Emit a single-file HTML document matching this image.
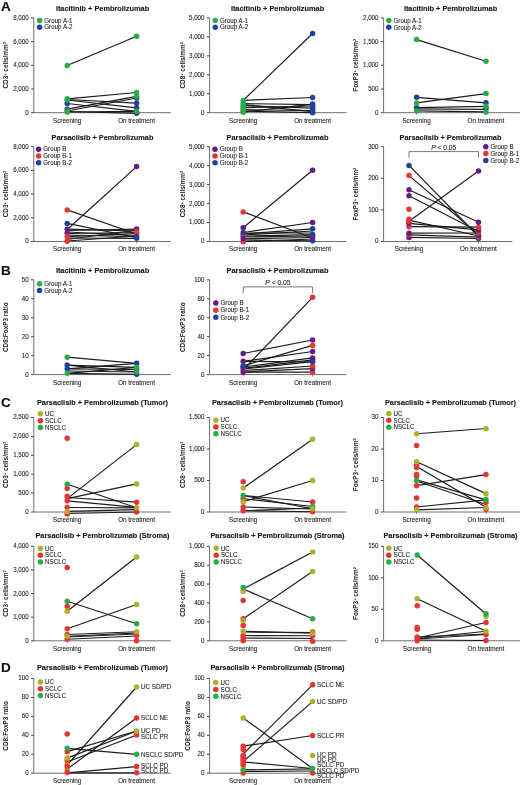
<!DOCTYPE html>
<html><head><meta charset="utf-8"><title>Figure</title>
<style>
html,body{margin:0;padding:0;background:#fff;}
body{width:520px;height:785px;overflow:hidden;}
svg{display:block;font-family:"Liberation Sans",Arial,sans-serif;}
svg line{stroke:#1c1c1c;stroke-width:1.2;}
text{stroke:#262626;stroke-width:0.1;}
text[font-weight=bold]{stroke:#1a1a1a;stroke-width:0.14;}
</style></head><body>
<svg width="520" height="785" viewBox="0 0 520 785">
<rect width="520" height="785" fill="#fff"/>
<text x="102.50" y="10.90" font-size="7.35" text-anchor="middle" font-weight="bold" fill="#1a1a1a">Itacitinib + Pembrolizumab</text>
<text transform="translate(8.30,65.30) rotate(-90)" font-size="6.4" text-anchor="middle" font-weight="bold" fill="#222" style="stroke-width:0">CD3<tspan dy="-2" font-size="4">+</tspan><tspan dy="2"> cells/mm</tspan><tspan dy="-2" font-size="4">2</tspan></text>
<path d="M33.80 17.90V112.70H170.80" fill="none" stroke="#6e6e6e" stroke-width="1"/>
<path d="M31.10 112.70H33.80" stroke="#4a4a4a" stroke-width="1.05"/>
<text x="28.70" y="114.65" font-size="6.75" text-anchor="end" fill="#262626" textLength="3.45" lengthAdjust="spacingAndGlyphs">0</text>
<path d="M31.10 89.00H33.80" stroke="#4a4a4a" stroke-width="1.05"/>
<text x="28.70" y="90.95" font-size="6.75" text-anchor="end" fill="#262626" textLength="15.52" lengthAdjust="spacingAndGlyphs">2,000</text>
<path d="M31.10 65.30H33.80" stroke="#4a4a4a" stroke-width="1.05"/>
<text x="28.70" y="67.25" font-size="6.75" text-anchor="end" fill="#262626" textLength="15.52" lengthAdjust="spacingAndGlyphs">4,000</text>
<path d="M31.10 41.60H33.80" stroke="#4a4a4a" stroke-width="1.05"/>
<text x="28.70" y="43.55" font-size="6.75" text-anchor="end" fill="#262626" textLength="15.52" lengthAdjust="spacingAndGlyphs">6,000</text>
<path d="M31.10 17.90H33.80" stroke="#4a4a4a" stroke-width="1.05"/>
<text x="28.70" y="19.85" font-size="6.75" text-anchor="end" fill="#262626" textLength="15.52" lengthAdjust="spacingAndGlyphs">8,000</text>
<path d="M67.20 112.70V114.70" stroke="#6e6e6e" stroke-width="0.8"/>
<path d="M136.60 112.70V114.70" stroke="#6e6e6e" stroke-width="0.8"/>
<text x="67.20" y="122.60" font-size="6.75" text-anchor="middle" fill="#262626" textLength="28.37" lengthAdjust="spacingAndGlyphs">Screening</text>
<text x="136.60" y="122.60" font-size="6.75" text-anchor="middle" fill="#262626" textLength="36.77" lengthAdjust="spacingAndGlyphs">On treatment</text>
<circle cx="39.60" cy="20.50" r="2.75" fill="#28ac45"/>
<text x="44.30" y="22.70" font-size="6.75" text-anchor="start" fill="#262626" textLength="28.26" lengthAdjust="spacingAndGlyphs">Group A-1</text>
<circle cx="39.60" cy="27.20" r="2.75" fill="#23409d"/>
<text x="44.30" y="29.40" font-size="6.75" text-anchor="start" fill="#262626" textLength="28.26" lengthAdjust="spacingAndGlyphs">Group A-2</text>
<line x1="67.20" y1="65.50" x2="136.60" y2="36.30"/>
<line x1="67.20" y1="98.80" x2="136.60" y2="92.50"/>
<line x1="67.20" y1="99.50" x2="136.60" y2="103.20"/>
<line x1="67.20" y1="100.00" x2="136.60" y2="107.80"/>
<line x1="67.20" y1="103.50" x2="136.60" y2="111.30"/>
<line x1="67.20" y1="109.20" x2="136.60" y2="96.30"/>
<line x1="67.20" y1="111.00" x2="136.60" y2="98.00"/>
<line x1="67.20" y1="111.50" x2="136.60" y2="113.30"/>
<line x1="67.20" y1="112.00" x2="136.60" y2="111.30"/>
<circle cx="67.20" cy="103.50" r="2.75" fill="#23409d"/>
<circle cx="67.20" cy="109.20" r="2.75" fill="#23409d"/>
<circle cx="67.20" cy="65.50" r="2.75" fill="#28ac45"/>
<circle cx="67.20" cy="98.80" r="2.75" fill="#28ac45"/>
<circle cx="67.20" cy="100.00" r="2.75" fill="#28ac45"/>
<circle cx="67.20" cy="111.00" r="2.75" fill="#28ac45"/>
<circle cx="67.20" cy="112.00" r="2.75" fill="#28ac45"/>
<circle cx="136.60" cy="98.00" r="2.75" fill="#23409d"/>
<circle cx="136.60" cy="103.20" r="2.75" fill="#23409d"/>
<circle cx="136.60" cy="107.80" r="2.75" fill="#23409d"/>
<circle cx="136.60" cy="113.30" r="2.75" fill="#23409d"/>
<circle cx="136.60" cy="36.30" r="2.75" fill="#28ac45"/>
<circle cx="136.60" cy="92.50" r="2.75" fill="#28ac45"/>
<circle cx="136.60" cy="96.30" r="2.75" fill="#28ac45"/>
<circle cx="136.60" cy="111.30" r="2.75" fill="#28ac45"/>
<text x="277.50" y="10.90" font-size="7.35" text-anchor="middle" font-weight="bold" fill="#1a1a1a">Itacitinib + Pembrolizumab</text>
<text transform="translate(184.80,65.30) rotate(-90)" font-size="6.4" text-anchor="middle" font-weight="bold" fill="#222" style="stroke-width:0">CD8<tspan dy="-2" font-size="4">+</tspan><tspan dy="2"> cells/mm</tspan><tspan dy="-2" font-size="4">2</tspan></text>
<path d="M209.60 17.90V112.70H346.50" fill="none" stroke="#6e6e6e" stroke-width="1"/>
<path d="M206.90 112.70H209.60" stroke="#4a4a4a" stroke-width="1.05"/>
<text x="204.50" y="114.65" font-size="6.75" text-anchor="end" fill="#262626" textLength="3.45" lengthAdjust="spacingAndGlyphs">0</text>
<path d="M206.90 93.74H209.60" stroke="#4a4a4a" stroke-width="1.05"/>
<text x="204.50" y="95.69" font-size="6.75" text-anchor="end" fill="#262626" textLength="15.52" lengthAdjust="spacingAndGlyphs">1,000</text>
<path d="M206.90 74.78H209.60" stroke="#4a4a4a" stroke-width="1.05"/>
<text x="204.50" y="76.73" font-size="6.75" text-anchor="end" fill="#262626" textLength="15.52" lengthAdjust="spacingAndGlyphs">2,000</text>
<path d="M206.90 55.82H209.60" stroke="#4a4a4a" stroke-width="1.05"/>
<text x="204.50" y="57.77" font-size="6.75" text-anchor="end" fill="#262626" textLength="15.52" lengthAdjust="spacingAndGlyphs">3,000</text>
<path d="M206.90 36.86H209.60" stroke="#4a4a4a" stroke-width="1.05"/>
<text x="204.50" y="38.81" font-size="6.75" text-anchor="end" fill="#262626" textLength="15.52" lengthAdjust="spacingAndGlyphs">4,000</text>
<path d="M206.90 17.90H209.60" stroke="#4a4a4a" stroke-width="1.05"/>
<text x="204.50" y="19.85" font-size="6.75" text-anchor="end" fill="#262626" textLength="15.52" lengthAdjust="spacingAndGlyphs">5,000</text>
<path d="M243.20 112.70V114.70" stroke="#6e6e6e" stroke-width="0.8"/>
<path d="M312.60 112.70V114.70" stroke="#6e6e6e" stroke-width="0.8"/>
<text x="243.20" y="122.60" font-size="6.75" text-anchor="middle" fill="#262626" textLength="28.37" lengthAdjust="spacingAndGlyphs">Screening</text>
<text x="312.60" y="122.60" font-size="6.75" text-anchor="middle" fill="#262626" textLength="36.77" lengthAdjust="spacingAndGlyphs">On treatment</text>
<circle cx="215.20" cy="20.50" r="2.75" fill="#28ac45"/>
<text x="219.90" y="22.70" font-size="6.75" text-anchor="start" fill="#262626" textLength="28.26" lengthAdjust="spacingAndGlyphs">Group A-1</text>
<circle cx="215.20" cy="27.20" r="2.75" fill="#23409d"/>
<text x="219.90" y="29.40" font-size="6.75" text-anchor="start" fill="#262626" textLength="28.26" lengthAdjust="spacingAndGlyphs">Group A-2</text>
<line x1="243.20" y1="100.40" x2="312.60" y2="33.50"/>
<line x1="243.20" y1="100.40" x2="312.60" y2="97.50"/>
<line x1="243.20" y1="103.60" x2="312.60" y2="104.60"/>
<line x1="243.20" y1="105.60" x2="312.60" y2="108.20"/>
<line x1="243.20" y1="107.60" x2="312.60" y2="106.00"/>
<line x1="243.20" y1="109.60" x2="312.60" y2="110.60"/>
<line x1="243.20" y1="111.20" x2="312.60" y2="112.60"/>
<line x1="243.20" y1="112.20" x2="312.60" y2="104.20"/>
<line x1="243.20" y1="104.50" x2="312.60" y2="111.60"/>
<circle cx="243.20" cy="100.40" r="2.75" fill="#28ac45"/>
<circle cx="243.20" cy="103.60" r="2.75" fill="#28ac45"/>
<circle cx="243.20" cy="105.60" r="2.75" fill="#28ac45"/>
<circle cx="243.20" cy="107.60" r="2.75" fill="#28ac45"/>
<circle cx="243.20" cy="109.60" r="2.75" fill="#28ac45"/>
<circle cx="243.20" cy="111.20" r="2.75" fill="#28ac45"/>
<circle cx="243.20" cy="112.20" r="2.75" fill="#28ac45"/>
<circle cx="312.60" cy="33.50" r="2.75" fill="#23409d"/>
<circle cx="312.60" cy="97.50" r="2.75" fill="#23409d"/>
<circle cx="312.60" cy="104.00" r="2.75" fill="#23409d"/>
<circle cx="312.60" cy="106.00" r="2.75" fill="#23409d"/>
<circle cx="312.60" cy="108.00" r="2.75" fill="#23409d"/>
<circle cx="312.60" cy="110.00" r="2.75" fill="#23409d"/>
<circle cx="312.60" cy="112.00" r="2.75" fill="#23409d"/>
<circle cx="312.60" cy="112.80" r="2.75" fill="#23409d"/>
<text x="450.50" y="10.90" font-size="7.35" text-anchor="middle" font-weight="bold" fill="#1a1a1a">Itacitinib + Pembrolizumab</text>
<text transform="translate(357.60,65.30) rotate(-90)" font-size="6.4" text-anchor="middle" font-weight="bold" fill="#222" style="stroke-width:0">FoxP3<tspan dy="-2" font-size="4">+</tspan><tspan dy="2"> cells/mm</tspan><tspan dy="-2" font-size="4">2</tspan></text>
<path d="M383.60 17.90V112.70H520.50" fill="none" stroke="#6e6e6e" stroke-width="1"/>
<path d="M380.90 112.70H383.60" stroke="#4a4a4a" stroke-width="1.05"/>
<text x="378.50" y="114.65" font-size="6.75" text-anchor="end" fill="#262626" textLength="3.45" lengthAdjust="spacingAndGlyphs">0</text>
<path d="M380.90 89.00H383.60" stroke="#4a4a4a" stroke-width="1.05"/>
<text x="378.50" y="90.95" font-size="6.75" text-anchor="end" fill="#262626" textLength="10.34" lengthAdjust="spacingAndGlyphs">500</text>
<path d="M380.90 65.30H383.60" stroke="#4a4a4a" stroke-width="1.05"/>
<text x="378.50" y="67.25" font-size="6.75" text-anchor="end" fill="#262626" textLength="15.52" lengthAdjust="spacingAndGlyphs">1,000</text>
<path d="M380.90 41.60H383.60" stroke="#4a4a4a" stroke-width="1.05"/>
<text x="378.50" y="43.55" font-size="6.75" text-anchor="end" fill="#262626" textLength="15.52" lengthAdjust="spacingAndGlyphs">1,500</text>
<path d="M380.90 17.90H383.60" stroke="#4a4a4a" stroke-width="1.05"/>
<text x="378.50" y="19.85" font-size="6.75" text-anchor="end" fill="#262626" textLength="15.52" lengthAdjust="spacingAndGlyphs">2,000</text>
<path d="M416.60 112.70V114.70" stroke="#6e6e6e" stroke-width="0.8"/>
<path d="M486.00 112.70V114.70" stroke="#6e6e6e" stroke-width="0.8"/>
<text x="416.60" y="122.60" font-size="6.75" text-anchor="middle" fill="#262626" textLength="28.37" lengthAdjust="spacingAndGlyphs">Screening</text>
<text x="486.00" y="122.60" font-size="6.75" text-anchor="middle" fill="#262626" textLength="36.77" lengthAdjust="spacingAndGlyphs">On treatment</text>
<circle cx="388.80" cy="20.60" r="2.75" fill="#28ac45"/>
<text x="393.50" y="22.80" font-size="6.75" text-anchor="start" fill="#262626" textLength="28.26" lengthAdjust="spacingAndGlyphs">Group A-1</text>
<circle cx="388.80" cy="27.30" r="2.75" fill="#23409d"/>
<text x="393.50" y="29.50" font-size="6.75" text-anchor="start" fill="#262626" textLength="28.26" lengthAdjust="spacingAndGlyphs">Group A-2</text>
<line x1="416.60" y1="39.60" x2="486.00" y2="61.30"/>
<line x1="416.60" y1="97.30" x2="486.00" y2="102.80"/>
<line x1="416.60" y1="102.90" x2="486.00" y2="93.60"/>
<line x1="416.60" y1="107.70" x2="486.00" y2="106.30"/>
<line x1="416.60" y1="108.80" x2="486.00" y2="109.30"/>
<line x1="416.60" y1="110.90" x2="486.00" y2="111.80"/>
<circle cx="416.60" cy="97.30" r="2.75" fill="#23409d"/>
<circle cx="416.60" cy="107.70" r="2.75" fill="#23409d"/>
<circle cx="416.60" cy="39.60" r="2.75" fill="#28ac45"/>
<circle cx="416.60" cy="102.90" r="2.75" fill="#28ac45"/>
<circle cx="416.60" cy="110.90" r="2.75" fill="#28ac45"/>
<circle cx="486.00" cy="102.80" r="2.75" fill="#23409d"/>
<circle cx="486.00" cy="108.30" r="2.75" fill="#23409d"/>
<circle cx="486.00" cy="61.30" r="2.75" fill="#28ac45"/>
<circle cx="486.00" cy="93.60" r="2.75" fill="#28ac45"/>
<circle cx="486.00" cy="106.30" r="2.75" fill="#28ac45"/>
<circle cx="486.00" cy="112.00" r="2.75" fill="#28ac45"/>
<text x="102.50" y="139.90" font-size="7.35" text-anchor="middle" font-weight="bold" fill="#1a1a1a">Parsaclisib + Pembrolizumab</text>
<text transform="translate(8.30,194.10) rotate(-90)" font-size="6.4" text-anchor="middle" font-weight="bold" fill="#222" style="stroke-width:0">CD3<tspan dy="-2" font-size="4">+</tspan><tspan dy="2"> cells/mm</tspan><tspan dy="-2" font-size="4">2</tspan></text>
<path d="M33.80 146.70V241.50H170.80" fill="none" stroke="#6e6e6e" stroke-width="1"/>
<path d="M31.10 241.50H33.80" stroke="#4a4a4a" stroke-width="1.05"/>
<text x="28.70" y="243.45" font-size="6.75" text-anchor="end" fill="#262626" textLength="3.45" lengthAdjust="spacingAndGlyphs">0</text>
<path d="M31.10 217.80H33.80" stroke="#4a4a4a" stroke-width="1.05"/>
<text x="28.70" y="219.75" font-size="6.75" text-anchor="end" fill="#262626" textLength="15.52" lengthAdjust="spacingAndGlyphs">2,000</text>
<path d="M31.10 194.10H33.80" stroke="#4a4a4a" stroke-width="1.05"/>
<text x="28.70" y="196.05" font-size="6.75" text-anchor="end" fill="#262626" textLength="15.52" lengthAdjust="spacingAndGlyphs">4,000</text>
<path d="M31.10 170.40H33.80" stroke="#4a4a4a" stroke-width="1.05"/>
<text x="28.70" y="172.35" font-size="6.75" text-anchor="end" fill="#262626" textLength="15.52" lengthAdjust="spacingAndGlyphs">6,000</text>
<path d="M31.10 146.70H33.80" stroke="#4a4a4a" stroke-width="1.05"/>
<text x="28.70" y="148.65" font-size="6.75" text-anchor="end" fill="#262626" textLength="15.52" lengthAdjust="spacingAndGlyphs">8,000</text>
<path d="M67.20 241.50V243.50" stroke="#6e6e6e" stroke-width="0.8"/>
<path d="M136.60 241.50V243.50" stroke="#6e6e6e" stroke-width="0.8"/>
<text x="67.20" y="251.40" font-size="6.75" text-anchor="middle" fill="#262626" textLength="28.37" lengthAdjust="spacingAndGlyphs">Screening</text>
<text x="136.60" y="251.40" font-size="6.75" text-anchor="middle" fill="#262626" textLength="36.77" lengthAdjust="spacingAndGlyphs">On treatment</text>
<circle cx="38.60" cy="149.20" r="2.75" fill="#621e88"/>
<text x="43.30" y="151.40" font-size="6.75" text-anchor="start" fill="#262626" textLength="23.09" lengthAdjust="spacingAndGlyphs">Group B</text>
<circle cx="38.60" cy="155.95" r="2.75" fill="#e63535"/>
<text x="43.30" y="158.15" font-size="6.75" text-anchor="start" fill="#262626" textLength="28.60" lengthAdjust="spacingAndGlyphs">Group B-1</text>
<circle cx="38.60" cy="162.70" r="2.75" fill="#23409d"/>
<text x="43.30" y="164.90" font-size="6.75" text-anchor="start" fill="#262626" textLength="28.60" lengthAdjust="spacingAndGlyphs">Group B-2</text>
<line x1="67.20" y1="229.50" x2="136.60" y2="166.60"/>
<line x1="67.20" y1="209.90" x2="136.60" y2="234.00"/>
<line x1="67.20" y1="223.40" x2="136.60" y2="237.50"/>
<line x1="67.20" y1="229.20" x2="136.60" y2="231.00"/>
<line x1="67.20" y1="230.50" x2="136.60" y2="229.20"/>
<line x1="67.20" y1="232.00" x2="136.60" y2="235.50"/>
<line x1="67.20" y1="233.50" x2="136.60" y2="232.50"/>
<line x1="67.20" y1="235.00" x2="136.60" y2="236.60"/>
<line x1="67.20" y1="236.60" x2="136.60" y2="233.50"/>
<line x1="67.20" y1="238.00" x2="136.60" y2="238.30"/>
<line x1="67.20" y1="241.00" x2="136.60" y2="236.00"/>
<line x1="67.20" y1="239.50" x2="136.60" y2="230.00"/>
<circle cx="67.20" cy="229.20" r="2.75" fill="#621e88"/>
<circle cx="67.20" cy="233.00" r="2.75" fill="#621e88"/>
<circle cx="67.20" cy="241.20" r="2.75" fill="#e63535"/>
<circle cx="67.20" cy="236.60" r="2.75" fill="#e63535"/>
<circle cx="67.20" cy="223.40" r="2.75" fill="#23409d"/>
<circle cx="67.20" cy="209.90" r="2.75" fill="#e63535"/>
<circle cx="136.60" cy="166.60" r="2.75" fill="#621e88"/>
<circle cx="136.60" cy="229.00" r="2.75" fill="#621e88"/>
<circle cx="136.60" cy="233.50" r="2.75" fill="#e63535"/>
<circle cx="136.60" cy="231.80" r="2.75" fill="#e63535"/>
<circle cx="136.60" cy="238.30" r="2.75" fill="#23409d"/>
<circle cx="136.60" cy="236.60" r="2.75" fill="#23409d"/>
<text x="277.50" y="139.90" font-size="7.35" text-anchor="middle" font-weight="bold" fill="#1a1a1a">Parsaclisib + Pembrolizumab</text>
<text transform="translate(184.80,194.10) rotate(-90)" font-size="6.4" text-anchor="middle" font-weight="bold" fill="#222" style="stroke-width:0">CD8<tspan dy="-2" font-size="4">+</tspan><tspan dy="2"> cells/mm</tspan><tspan dy="-2" font-size="4">2</tspan></text>
<path d="M209.60 146.70V241.50H346.50" fill="none" stroke="#6e6e6e" stroke-width="1"/>
<path d="M206.90 241.50H209.60" stroke="#4a4a4a" stroke-width="1.05"/>
<text x="204.50" y="243.45" font-size="6.75" text-anchor="end" fill="#262626" textLength="3.45" lengthAdjust="spacingAndGlyphs">0</text>
<path d="M206.90 222.54H209.60" stroke="#4a4a4a" stroke-width="1.05"/>
<text x="204.50" y="224.49" font-size="6.75" text-anchor="end" fill="#262626" textLength="15.52" lengthAdjust="spacingAndGlyphs">1,000</text>
<path d="M206.90 203.58H209.60" stroke="#4a4a4a" stroke-width="1.05"/>
<text x="204.50" y="205.53" font-size="6.75" text-anchor="end" fill="#262626" textLength="15.52" lengthAdjust="spacingAndGlyphs">2,000</text>
<path d="M206.90 184.62H209.60" stroke="#4a4a4a" stroke-width="1.05"/>
<text x="204.50" y="186.57" font-size="6.75" text-anchor="end" fill="#262626" textLength="15.52" lengthAdjust="spacingAndGlyphs">3,000</text>
<path d="M206.90 165.66H209.60" stroke="#4a4a4a" stroke-width="1.05"/>
<text x="204.50" y="167.61" font-size="6.75" text-anchor="end" fill="#262626" textLength="15.52" lengthAdjust="spacingAndGlyphs">4,000</text>
<path d="M206.90 146.70H209.60" stroke="#4a4a4a" stroke-width="1.05"/>
<text x="204.50" y="148.65" font-size="6.75" text-anchor="end" fill="#262626" textLength="15.52" lengthAdjust="spacingAndGlyphs">5,000</text>
<path d="M243.20 241.50V243.50" stroke="#6e6e6e" stroke-width="0.8"/>
<path d="M312.60 241.50V243.50" stroke="#6e6e6e" stroke-width="0.8"/>
<text x="243.20" y="251.40" font-size="6.75" text-anchor="middle" fill="#262626" textLength="28.37" lengthAdjust="spacingAndGlyphs">Screening</text>
<text x="312.60" y="251.40" font-size="6.75" text-anchor="middle" fill="#262626" textLength="36.77" lengthAdjust="spacingAndGlyphs">On treatment</text>
<circle cx="215.00" cy="149.20" r="2.75" fill="#621e88"/>
<text x="219.70" y="151.40" font-size="6.75" text-anchor="start" fill="#262626" textLength="23.09" lengthAdjust="spacingAndGlyphs">Group B</text>
<circle cx="215.00" cy="155.95" r="2.75" fill="#e63535"/>
<text x="219.70" y="158.15" font-size="6.75" text-anchor="start" fill="#262626" textLength="28.60" lengthAdjust="spacingAndGlyphs">Group B-1</text>
<circle cx="215.00" cy="162.70" r="2.75" fill="#23409d"/>
<text x="219.70" y="164.90" font-size="6.75" text-anchor="start" fill="#262626" textLength="28.60" lengthAdjust="spacingAndGlyphs">Group B-2</text>
<line x1="243.20" y1="227.70" x2="312.60" y2="170.20"/>
<line x1="243.20" y1="211.90" x2="312.60" y2="238.00"/>
<line x1="243.20" y1="232.50" x2="312.60" y2="222.50"/>
<line x1="243.20" y1="234.00" x2="312.60" y2="228.80"/>
<line x1="243.20" y1="235.00" x2="312.60" y2="231.00"/>
<line x1="243.20" y1="236.00" x2="312.60" y2="234.60"/>
<line x1="243.20" y1="237.00" x2="312.60" y2="236.00"/>
<line x1="243.20" y1="238.80" x2="312.60" y2="237.50"/>
<line x1="243.20" y1="240.00" x2="312.60" y2="240.80"/>
<line x1="243.20" y1="241.70" x2="312.60" y2="239.00"/>
<line x1="243.20" y1="233.00" x2="312.60" y2="233.00"/>
<circle cx="243.20" cy="241.70" r="2.75" fill="#e63535"/>
<circle cx="243.20" cy="236.00" r="2.75" fill="#23409d"/>
<circle cx="243.20" cy="235.00" r="2.75" fill="#e63535"/>
<circle cx="243.20" cy="238.80" r="2.75" fill="#621e88"/>
<circle cx="243.20" cy="232.50" r="2.75" fill="#23409d"/>
<circle cx="243.20" cy="227.70" r="2.75" fill="#621e88"/>
<circle cx="243.20" cy="211.90" r="2.75" fill="#e63535"/>
<circle cx="312.60" cy="240.80" r="2.75" fill="#23409d"/>
<circle cx="312.60" cy="236.00" r="2.75" fill="#e63535"/>
<circle cx="312.60" cy="237.50" r="2.75" fill="#621e88"/>
<circle cx="312.60" cy="234.60" r="2.75" fill="#23409d"/>
<circle cx="312.60" cy="228.80" r="2.75" fill="#23409d"/>
<circle cx="312.60" cy="222.50" r="2.75" fill="#621e88"/>
<circle cx="312.60" cy="170.20" r="2.75" fill="#621e88"/>
<text x="450.50" y="139.90" font-size="7.35" text-anchor="middle" font-weight="bold" fill="#1a1a1a">Parsaclisib + Pembrolizumab</text>
<text transform="translate(357.60,194.10) rotate(-90)" font-size="6.4" text-anchor="middle" font-weight="bold" fill="#222" style="stroke-width:0">FoxP3<tspan dy="-2" font-size="4">+</tspan><tspan dy="2"> cells/mm</tspan><tspan dy="-2" font-size="4">2</tspan></text>
<path d="M383.60 146.70V241.50H512.30" fill="none" stroke="#6e6e6e" stroke-width="1"/>
<path d="M380.90 241.50H383.60" stroke="#4a4a4a" stroke-width="1.05"/>
<text x="378.50" y="243.45" font-size="6.75" text-anchor="end" fill="#262626" textLength="3.45" lengthAdjust="spacingAndGlyphs">0</text>
<path d="M380.90 209.90H383.60" stroke="#4a4a4a" stroke-width="1.05"/>
<text x="378.50" y="211.85" font-size="6.75" text-anchor="end" fill="#262626" textLength="10.34" lengthAdjust="spacingAndGlyphs">100</text>
<path d="M380.90 178.30H383.60" stroke="#4a4a4a" stroke-width="1.05"/>
<text x="378.50" y="180.25" font-size="6.75" text-anchor="end" fill="#262626" textLength="10.34" lengthAdjust="spacingAndGlyphs">200</text>
<path d="M380.90 146.70H383.60" stroke="#4a4a4a" stroke-width="1.05"/>
<text x="378.50" y="148.65" font-size="6.75" text-anchor="end" fill="#262626" textLength="10.34" lengthAdjust="spacingAndGlyphs">300</text>
<path d="M409.00 241.50V243.50" stroke="#6e6e6e" stroke-width="0.8"/>
<path d="M478.50 241.50V243.50" stroke="#6e6e6e" stroke-width="0.8"/>
<text x="409.00" y="251.40" font-size="6.75" text-anchor="middle" fill="#262626" textLength="28.37" lengthAdjust="spacingAndGlyphs">Screening</text>
<text x="478.50" y="251.40" font-size="6.75" text-anchor="middle" fill="#262626" textLength="36.77" lengthAdjust="spacingAndGlyphs">On treatment</text>
<circle cx="485.80" cy="146.70" r="2.75" fill="#621e88"/>
<text x="490.50" y="148.90" font-size="6.75" text-anchor="start" fill="#262626" textLength="23.09" lengthAdjust="spacingAndGlyphs">Group B</text>
<circle cx="485.80" cy="153.55" r="2.75" fill="#e63535"/>
<text x="490.50" y="155.75" font-size="6.75" text-anchor="start" fill="#262626" textLength="28.60" lengthAdjust="spacingAndGlyphs">Group B-1</text>
<circle cx="485.80" cy="160.40" r="2.75" fill="#23409d"/>
<text x="490.50" y="162.60" font-size="6.75" text-anchor="start" fill="#262626" textLength="28.60" lengthAdjust="spacingAndGlyphs">Group B-2</text>
<path d="M409.00 157.80V151.60H478.50V157.80" fill="none" stroke="#555" stroke-width="0.8"/>
<text x="443.75" y="149.60" font-size="6.7" text-anchor="middle" fill="#262626"><tspan font-style="italic">P</tspan> &lt; 0.05</text>
<line x1="409.00" y1="165.40" x2="478.50" y2="236.50"/>
<line x1="409.00" y1="175.60" x2="478.50" y2="234.50"/>
<line x1="409.00" y1="189.80" x2="478.50" y2="222.30"/>
<line x1="409.00" y1="195.70" x2="478.50" y2="231.50"/>
<line x1="409.00" y1="221.30" x2="478.50" y2="171.10"/>
<line x1="409.00" y1="220.20" x2="478.50" y2="236.00"/>
<line x1="409.00" y1="223.30" x2="478.50" y2="229.80"/>
<line x1="409.00" y1="226.70" x2="478.50" y2="227.20"/>
<line x1="409.00" y1="233.20" x2="478.50" y2="233.00"/>
<line x1="409.00" y1="234.80" x2="478.50" y2="237.20"/>
<line x1="409.00" y1="237.40" x2="478.50" y2="238.50"/>
<circle cx="409.00" cy="237.40" r="2.75" fill="#621e88"/>
<circle cx="409.00" cy="234.80" r="2.75" fill="#e63535"/>
<circle cx="409.00" cy="233.20" r="2.75" fill="#621e88"/>
<circle cx="409.00" cy="226.70" r="2.75" fill="#e63535"/>
<circle cx="409.00" cy="223.30" r="2.75" fill="#621e88"/>
<circle cx="409.00" cy="221.30" r="2.75" fill="#e63535"/>
<circle cx="409.00" cy="219.30" r="2.75" fill="#e63535"/>
<circle cx="409.00" cy="209.20" r="2.75" fill="#e63535"/>
<circle cx="409.00" cy="195.70" r="2.75" fill="#621e88"/>
<circle cx="409.00" cy="189.80" r="2.75" fill="#621e88"/>
<circle cx="409.00" cy="175.60" r="2.75" fill="#e63535"/>
<circle cx="409.00" cy="165.40" r="2.75" fill="#23409d"/>
<circle cx="478.50" cy="238.50" r="2.75" fill="#23409d"/>
<circle cx="478.50" cy="237.00" r="2.75" fill="#e63535"/>
<circle cx="478.50" cy="235.50" r="2.75" fill="#23409d"/>
<circle cx="478.50" cy="233.00" r="2.75" fill="#e63535"/>
<circle cx="478.50" cy="230.00" r="2.75" fill="#621e88"/>
<circle cx="478.50" cy="227.20" r="2.75" fill="#e63535"/>
<circle cx="478.50" cy="222.30" r="2.75" fill="#621e88"/>
<circle cx="478.50" cy="171.10" r="2.75" fill="#621e88"/>
<text x="102.50" y="273.00" font-size="7.35" text-anchor="middle" font-weight="bold" fill="#1a1a1a">Itacitinib + Pembrolizumab</text>
<text transform="translate(8.30,327.20) rotate(-90)" font-size="6.4" text-anchor="middle" font-weight="bold" fill="#222" style="stroke-width:0">CD8:FoxP3 ratio</text>
<path d="M33.80 279.80V374.60H170.80" fill="none" stroke="#6e6e6e" stroke-width="1"/>
<path d="M31.10 374.60H33.80" stroke="#4a4a4a" stroke-width="1.05"/>
<text x="28.70" y="376.55" font-size="6.75" text-anchor="end" fill="#262626" textLength="3.45" lengthAdjust="spacingAndGlyphs">0</text>
<path d="M31.10 355.64H33.80" stroke="#4a4a4a" stroke-width="1.05"/>
<text x="28.70" y="357.59" font-size="6.75" text-anchor="end" fill="#262626" textLength="6.90" lengthAdjust="spacingAndGlyphs">10</text>
<path d="M31.10 336.68H33.80" stroke="#4a4a4a" stroke-width="1.05"/>
<text x="28.70" y="338.63" font-size="6.75" text-anchor="end" fill="#262626" textLength="6.90" lengthAdjust="spacingAndGlyphs">20</text>
<path d="M31.10 317.72H33.80" stroke="#4a4a4a" stroke-width="1.05"/>
<text x="28.70" y="319.67" font-size="6.75" text-anchor="end" fill="#262626" textLength="6.90" lengthAdjust="spacingAndGlyphs">30</text>
<path d="M31.10 298.76H33.80" stroke="#4a4a4a" stroke-width="1.05"/>
<text x="28.70" y="300.71" font-size="6.75" text-anchor="end" fill="#262626" textLength="6.90" lengthAdjust="spacingAndGlyphs">40</text>
<path d="M31.10 279.80H33.80" stroke="#4a4a4a" stroke-width="1.05"/>
<text x="28.70" y="281.75" font-size="6.75" text-anchor="end" fill="#262626" textLength="6.90" lengthAdjust="spacingAndGlyphs">50</text>
<path d="M67.20 374.60V376.60" stroke="#6e6e6e" stroke-width="0.8"/>
<path d="M136.60 374.60V376.60" stroke="#6e6e6e" stroke-width="0.8"/>
<text x="67.20" y="384.50" font-size="6.75" text-anchor="middle" fill="#262626" textLength="28.37" lengthAdjust="spacingAndGlyphs">Screening</text>
<text x="136.60" y="384.50" font-size="6.75" text-anchor="middle" fill="#262626" textLength="36.77" lengthAdjust="spacingAndGlyphs">On treatment</text>
<circle cx="39.50" cy="283.70" r="2.75" fill="#28ac45"/>
<text x="44.20" y="285.90" font-size="6.75" text-anchor="start" fill="#262626" textLength="28.26" lengthAdjust="spacingAndGlyphs">Group A-1</text>
<circle cx="39.50" cy="290.40" r="2.75" fill="#23409d"/>
<text x="44.20" y="292.60" font-size="6.75" text-anchor="start" fill="#262626" textLength="28.26" lengthAdjust="spacingAndGlyphs">Group A-2</text>
<line x1="67.20" y1="357.20" x2="136.60" y2="363.30"/>
<line x1="67.20" y1="365.10" x2="136.60" y2="367.30"/>
<line x1="67.20" y1="365.10" x2="136.60" y2="372.00"/>
<line x1="67.20" y1="368.80" x2="136.60" y2="363.30"/>
<line x1="67.20" y1="368.80" x2="136.60" y2="369.50"/>
<line x1="67.20" y1="373.30" x2="136.60" y2="367.30"/>
<line x1="67.20" y1="373.30" x2="136.60" y2="374.30"/>
<line x1="67.20" y1="371.00" x2="136.60" y2="372.00"/>
<circle cx="67.20" cy="365.10" r="2.75" fill="#23409d"/>
<circle cx="67.20" cy="368.80" r="2.75" fill="#23409d"/>
<circle cx="67.20" cy="357.20" r="2.75" fill="#28ac45"/>
<circle cx="67.20" cy="373.30" r="2.75" fill="#28ac45"/>
<circle cx="136.60" cy="363.30" r="2.75" fill="#23409d"/>
<circle cx="136.60" cy="369.50" r="2.75" fill="#23409d"/>
<circle cx="136.60" cy="374.30" r="2.75" fill="#23409d"/>
<circle cx="136.60" cy="367.30" r="2.75" fill="#28ac45"/>
<circle cx="136.60" cy="372.00" r="2.75" fill="#28ac45"/>
<text x="277.50" y="273.00" font-size="7.35" text-anchor="middle" font-weight="bold" fill="#1a1a1a">Parsaclisib + Pembrolizumab</text>
<text transform="translate(185.30,327.20) rotate(-90)" font-size="6.4" text-anchor="middle" font-weight="bold" fill="#222" style="stroke-width:0">CD8:FoxP3 ratio</text>
<path d="M209.60 279.80V374.60H346.50" fill="none" stroke="#6e6e6e" stroke-width="1"/>
<path d="M206.90 374.60H209.60" stroke="#4a4a4a" stroke-width="1.05"/>
<text x="204.50" y="376.55" font-size="6.75" text-anchor="end" fill="#262626" textLength="3.45" lengthAdjust="spacingAndGlyphs">0</text>
<path d="M206.90 355.64H209.60" stroke="#4a4a4a" stroke-width="1.05"/>
<text x="204.50" y="357.59" font-size="6.75" text-anchor="end" fill="#262626" textLength="6.90" lengthAdjust="spacingAndGlyphs">20</text>
<path d="M206.90 336.68H209.60" stroke="#4a4a4a" stroke-width="1.05"/>
<text x="204.50" y="338.63" font-size="6.75" text-anchor="end" fill="#262626" textLength="6.90" lengthAdjust="spacingAndGlyphs">40</text>
<path d="M206.90 317.72H209.60" stroke="#4a4a4a" stroke-width="1.05"/>
<text x="204.50" y="319.67" font-size="6.75" text-anchor="end" fill="#262626" textLength="6.90" lengthAdjust="spacingAndGlyphs">60</text>
<path d="M206.90 298.76H209.60" stroke="#4a4a4a" stroke-width="1.05"/>
<text x="204.50" y="300.71" font-size="6.75" text-anchor="end" fill="#262626" textLength="6.90" lengthAdjust="spacingAndGlyphs">80</text>
<path d="M206.90 279.80H209.60" stroke="#4a4a4a" stroke-width="1.05"/>
<text x="204.50" y="281.75" font-size="6.75" text-anchor="end" fill="#262626" textLength="10.34" lengthAdjust="spacingAndGlyphs">100</text>
<path d="M243.20 374.60V376.60" stroke="#6e6e6e" stroke-width="0.8"/>
<path d="M312.60 374.60V376.60" stroke="#6e6e6e" stroke-width="0.8"/>
<text x="243.20" y="384.50" font-size="6.75" text-anchor="middle" fill="#262626" textLength="28.37" lengthAdjust="spacingAndGlyphs">Screening</text>
<text x="312.60" y="384.50" font-size="6.75" text-anchor="middle" fill="#262626" textLength="36.77" lengthAdjust="spacingAndGlyphs">On treatment</text>
<circle cx="215.80" cy="303.00" r="2.75" fill="#621e88"/>
<text x="220.50" y="305.20" font-size="6.75" text-anchor="start" fill="#262626" textLength="23.09" lengthAdjust="spacingAndGlyphs">Group B</text>
<circle cx="215.80" cy="310.15" r="2.75" fill="#e63535"/>
<text x="220.50" y="312.35" font-size="6.75" text-anchor="start" fill="#262626" textLength="28.60" lengthAdjust="spacingAndGlyphs">Group B-1</text>
<circle cx="215.80" cy="317.30" r="2.75" fill="#23409d"/>
<text x="220.50" y="319.50" font-size="6.75" text-anchor="start" fill="#262626" textLength="28.60" lengthAdjust="spacingAndGlyphs">Group B-2</text>
<path d="M243.20 293.20V286.90H312.60V293.20" fill="none" stroke="#555" stroke-width="0.8"/>
<text x="277.90" y="284.70" font-size="6.7" text-anchor="middle" fill="#262626"><tspan font-style="italic">P</tspan> &lt; 0.05</text>
<line x1="243.20" y1="353.50" x2="312.60" y2="340.00"/>
<line x1="243.20" y1="370.00" x2="312.60" y2="297.30"/>
<line x1="243.20" y1="361.30" x2="312.60" y2="351.50"/>
<line x1="243.20" y1="365.80" x2="312.60" y2="345.40"/>
<line x1="243.20" y1="367.00" x2="312.60" y2="357.90"/>
<line x1="243.20" y1="368.40" x2="312.60" y2="359.90"/>
<line x1="243.20" y1="369.00" x2="312.60" y2="361.70"/>
<line x1="243.20" y1="370.50" x2="312.60" y2="366.00"/>
<line x1="243.20" y1="372.00" x2="312.60" y2="368.60"/>
<line x1="243.20" y1="372.20" x2="312.60" y2="372.20"/>
<line x1="243.20" y1="361.30" x2="312.60" y2="362.00"/>
<circle cx="243.20" cy="370.00" r="2.75" fill="#e63535"/>
<circle cx="243.20" cy="368.40" r="2.75" fill="#e63535"/>
<circle cx="243.20" cy="367.00" r="2.75" fill="#23409d"/>
<circle cx="243.20" cy="365.80" r="2.75" fill="#23409d"/>
<circle cx="243.20" cy="372.20" r="2.75" fill="#621e88"/>
<circle cx="243.20" cy="361.30" r="2.75" fill="#621e88"/>
<circle cx="243.20" cy="353.50" r="2.75" fill="#621e88"/>
<circle cx="312.60" cy="372.20" r="2.75" fill="#e63535"/>
<circle cx="312.60" cy="368.60" r="2.75" fill="#621e88"/>
<circle cx="312.60" cy="366.00" r="2.75" fill="#e63535"/>
<circle cx="312.60" cy="361.70" r="2.75" fill="#23409d"/>
<circle cx="312.60" cy="359.90" r="2.75" fill="#23409d"/>
<circle cx="312.60" cy="357.90" r="2.75" fill="#621e88"/>
<circle cx="312.60" cy="351.50" r="2.75" fill="#621e88"/>
<circle cx="312.60" cy="345.40" r="2.75" fill="#e63535"/>
<circle cx="312.60" cy="340.00" r="2.75" fill="#621e88"/>
<circle cx="312.60" cy="297.30" r="2.75" fill="#e63535"/>
<text x="102.50" y="405.10" font-size="7.35" text-anchor="middle" font-weight="bold" fill="#1a1a1a">Parsaclisib + Pembrolizumab (Tumor)</text>
<text transform="translate(8.30,464.75) rotate(-90)" font-size="6.4" text-anchor="middle" font-weight="bold" fill="#222" style="stroke-width:0">CD3<tspan dy="-2" font-size="4">+</tspan><tspan dy="2"> cells/mm</tspan><tspan dy="-2" font-size="4">2</tspan></text>
<path d="M33.80 417.50V512.00H170.80" fill="none" stroke="#6e6e6e" stroke-width="1"/>
<path d="M31.10 512.00H33.80" stroke="#4a4a4a" stroke-width="1.05"/>
<text x="28.70" y="513.95" font-size="6.75" text-anchor="end" fill="#262626" textLength="3.45" lengthAdjust="spacingAndGlyphs">0</text>
<path d="M31.10 493.10H33.80" stroke="#4a4a4a" stroke-width="1.05"/>
<text x="28.70" y="495.05" font-size="6.75" text-anchor="end" fill="#262626" textLength="10.34" lengthAdjust="spacingAndGlyphs">500</text>
<path d="M31.10 474.20H33.80" stroke="#4a4a4a" stroke-width="1.05"/>
<text x="28.70" y="476.15" font-size="6.75" text-anchor="end" fill="#262626" textLength="15.52" lengthAdjust="spacingAndGlyphs">1,000</text>
<path d="M31.10 455.30H33.80" stroke="#4a4a4a" stroke-width="1.05"/>
<text x="28.70" y="457.25" font-size="6.75" text-anchor="end" fill="#262626" textLength="15.52" lengthAdjust="spacingAndGlyphs">1,500</text>
<path d="M31.10 436.40H33.80" stroke="#4a4a4a" stroke-width="1.05"/>
<text x="28.70" y="438.35" font-size="6.75" text-anchor="end" fill="#262626" textLength="15.52" lengthAdjust="spacingAndGlyphs">2,000</text>
<path d="M31.10 417.50H33.80" stroke="#4a4a4a" stroke-width="1.05"/>
<text x="28.70" y="419.45" font-size="6.75" text-anchor="end" fill="#262626" textLength="15.52" lengthAdjust="spacingAndGlyphs">2,500</text>
<path d="M67.20 512.00V514.00" stroke="#6e6e6e" stroke-width="0.8"/>
<path d="M136.60 512.00V514.00" stroke="#6e6e6e" stroke-width="0.8"/>
<text x="67.20" y="521.90" font-size="6.75" text-anchor="middle" fill="#262626" textLength="28.37" lengthAdjust="spacingAndGlyphs">Screening</text>
<text x="136.60" y="521.90" font-size="6.75" text-anchor="middle" fill="#262626" textLength="36.77" lengthAdjust="spacingAndGlyphs">On treatment</text>
<circle cx="40.40" cy="413.80" r="2.75" fill="#b1af28"/>
<text x="45.10" y="416.00" font-size="6.75" text-anchor="start" fill="#262626" textLength="8.96" lengthAdjust="spacingAndGlyphs">UC</text>
<circle cx="40.40" cy="420.70" r="2.75" fill="#e63535"/>
<text x="45.10" y="422.90" font-size="6.75" text-anchor="start" fill="#262626" textLength="16.54" lengthAdjust="spacingAndGlyphs">SCLC</text>
<circle cx="40.40" cy="427.60" r="2.75" fill="#28ac45"/>
<text x="45.10" y="429.80" font-size="6.75" text-anchor="start" fill="#262626" textLength="21.02" lengthAdjust="spacingAndGlyphs">NSCLC</text>
<line x1="67.20" y1="498.60" x2="136.60" y2="444.60"/>
<line x1="67.20" y1="498.60" x2="136.60" y2="483.90"/>
<line x1="67.20" y1="484.30" x2="136.60" y2="507.70"/>
<line x1="67.20" y1="497.50" x2="136.60" y2="502.20"/>
<line x1="67.20" y1="500.80" x2="136.60" y2="507.30"/>
<line x1="67.20" y1="507.50" x2="136.60" y2="507.90"/>
<line x1="67.20" y1="511.40" x2="136.60" y2="509.60"/>
<line x1="67.20" y1="513.50" x2="136.60" y2="512.00"/>
<circle cx="67.20" cy="513.90" r="2.75" fill="#e63535"/>
<circle cx="67.20" cy="507.50" r="2.75" fill="#e63535"/>
<circle cx="67.20" cy="500.80" r="2.75" fill="#e63535"/>
<circle cx="67.20" cy="496.30" r="2.75" fill="#e63535"/>
<circle cx="67.20" cy="488.50" r="2.75" fill="#e63535"/>
<circle cx="67.20" cy="438.20" r="2.75" fill="#e63535"/>
<circle cx="67.20" cy="484.20" r="2.75" fill="#28ac45"/>
<circle cx="67.20" cy="511.40" r="2.75" fill="#b1af28"/>
<circle cx="136.60" cy="511.90" r="2.75" fill="#e63535"/>
<circle cx="136.60" cy="502.20" r="2.75" fill="#e63535"/>
<circle cx="136.60" cy="507.70" r="2.75" fill="#b1af28"/>
<circle cx="136.60" cy="483.90" r="2.75" fill="#b1af28"/>
<circle cx="136.60" cy="444.60" r="2.75" fill="#b1af28"/>
<text x="277.50" y="405.10" font-size="7.35" text-anchor="middle" font-weight="bold" fill="#1a1a1a">Parsaclisib + Pembrolizumab (Tumor)</text>
<text transform="translate(184.80,464.75) rotate(-90)" font-size="6.4" text-anchor="middle" font-weight="bold" fill="#222" style="stroke-width:0">CD8<tspan dy="-2" font-size="4">+</tspan><tspan dy="2"> cells/mm</tspan><tspan dy="-2" font-size="4">2</tspan></text>
<path d="M209.60 417.50V512.00H346.50" fill="none" stroke="#6e6e6e" stroke-width="1"/>
<path d="M206.90 512.00H209.60" stroke="#4a4a4a" stroke-width="1.05"/>
<text x="204.50" y="513.95" font-size="6.75" text-anchor="end" fill="#262626" textLength="3.45" lengthAdjust="spacingAndGlyphs">0</text>
<path d="M206.90 480.50H209.60" stroke="#4a4a4a" stroke-width="1.05"/>
<text x="204.50" y="482.45" font-size="6.75" text-anchor="end" fill="#262626" textLength="10.34" lengthAdjust="spacingAndGlyphs">500</text>
<path d="M206.90 449.00H209.60" stroke="#4a4a4a" stroke-width="1.05"/>
<text x="204.50" y="450.95" font-size="6.75" text-anchor="end" fill="#262626" textLength="15.52" lengthAdjust="spacingAndGlyphs">1,000</text>
<path d="M206.90 417.50H209.60" stroke="#4a4a4a" stroke-width="1.05"/>
<text x="204.50" y="419.45" font-size="6.75" text-anchor="end" fill="#262626" textLength="15.52" lengthAdjust="spacingAndGlyphs">1,500</text>
<path d="M243.20 512.00V514.00" stroke="#6e6e6e" stroke-width="0.8"/>
<path d="M312.60 512.00V514.00" stroke="#6e6e6e" stroke-width="0.8"/>
<text x="243.20" y="521.90" font-size="6.75" text-anchor="middle" fill="#262626" textLength="28.37" lengthAdjust="spacingAndGlyphs">Screening</text>
<text x="312.60" y="521.90" font-size="6.75" text-anchor="middle" fill="#262626" textLength="36.77" lengthAdjust="spacingAndGlyphs">On treatment</text>
<circle cx="215.90" cy="420.20" r="2.75" fill="#b1af28"/>
<text x="220.60" y="422.40" font-size="6.75" text-anchor="start" fill="#262626" textLength="8.96" lengthAdjust="spacingAndGlyphs">UC</text>
<circle cx="215.90" cy="426.95" r="2.75" fill="#e63535"/>
<text x="220.60" y="429.15" font-size="6.75" text-anchor="start" fill="#262626" textLength="16.54" lengthAdjust="spacingAndGlyphs">SCLC</text>
<circle cx="215.90" cy="433.70" r="2.75" fill="#28ac45"/>
<text x="220.60" y="435.90" font-size="6.75" text-anchor="start" fill="#262626" textLength="21.02" lengthAdjust="spacingAndGlyphs">NSCLC</text>
<line x1="243.20" y1="488.00" x2="312.60" y2="439.25"/>
<line x1="243.20" y1="501.75" x2="312.60" y2="480.50"/>
<line x1="243.20" y1="495.50" x2="312.60" y2="508.75"/>
<line x1="243.20" y1="495.50" x2="312.60" y2="502.00"/>
<line x1="243.20" y1="498.75" x2="312.60" y2="506.50"/>
<line x1="243.20" y1="507.00" x2="312.60" y2="509.00"/>
<line x1="243.20" y1="510.75" x2="312.60" y2="508.00"/>
<line x1="243.20" y1="510.75" x2="312.60" y2="511.75"/>
<circle cx="243.20" cy="510.75" r="2.75" fill="#e63535"/>
<circle cx="243.20" cy="507.00" r="2.75" fill="#e63535"/>
<circle cx="243.20" cy="498.75" r="2.75" fill="#e63535"/>
<circle cx="243.20" cy="481.75" r="2.75" fill="#e63535"/>
<circle cx="243.20" cy="495.50" r="2.75" fill="#28ac45"/>
<circle cx="243.20" cy="501.75" r="2.75" fill="#b1af28"/>
<circle cx="243.20" cy="488.00" r="2.75" fill="#b1af28"/>
<circle cx="312.60" cy="511.75" r="2.75" fill="#e63535"/>
<circle cx="312.60" cy="502.00" r="2.75" fill="#e63535"/>
<circle cx="312.60" cy="506.50" r="2.75" fill="#28ac45"/>
<circle cx="312.60" cy="508.75" r="2.75" fill="#b1af28"/>
<circle cx="312.60" cy="480.50" r="2.75" fill="#b1af28"/>
<circle cx="312.60" cy="439.25" r="2.75" fill="#b1af28"/>
<text x="450.50" y="405.10" font-size="7.35" text-anchor="middle" font-weight="bold" fill="#1a1a1a">Parsaclisib + Pembrolizumab (Tumor)</text>
<text transform="translate(357.60,464.75) rotate(-90)" font-size="6.4" text-anchor="middle" font-weight="bold" fill="#222" style="stroke-width:0">FoxP3<tspan dy="-2" font-size="4">+</tspan><tspan dy="2"> cells/mm</tspan><tspan dy="-2" font-size="4">2</tspan></text>
<path d="M383.60 417.50V512.00H520.50" fill="none" stroke="#6e6e6e" stroke-width="1"/>
<path d="M380.90 512.00H383.60" stroke="#4a4a4a" stroke-width="1.05"/>
<text x="378.50" y="513.95" font-size="6.75" text-anchor="end" fill="#262626" textLength="3.45" lengthAdjust="spacingAndGlyphs">0</text>
<path d="M380.90 480.50H383.60" stroke="#4a4a4a" stroke-width="1.05"/>
<text x="378.50" y="482.45" font-size="6.75" text-anchor="end" fill="#262626" textLength="6.90" lengthAdjust="spacingAndGlyphs">10</text>
<path d="M380.90 449.00H383.60" stroke="#4a4a4a" stroke-width="1.05"/>
<text x="378.50" y="450.95" font-size="6.75" text-anchor="end" fill="#262626" textLength="6.90" lengthAdjust="spacingAndGlyphs">20</text>
<path d="M380.90 417.50H383.60" stroke="#4a4a4a" stroke-width="1.05"/>
<text x="378.50" y="419.45" font-size="6.75" text-anchor="end" fill="#262626" textLength="6.90" lengthAdjust="spacingAndGlyphs">30</text>
<path d="M416.60 512.00V514.00" stroke="#6e6e6e" stroke-width="0.8"/>
<path d="M486.00 512.00V514.00" stroke="#6e6e6e" stroke-width="0.8"/>
<text x="416.60" y="521.90" font-size="6.75" text-anchor="middle" fill="#262626" textLength="28.37" lengthAdjust="spacingAndGlyphs">Screening</text>
<text x="486.00" y="521.90" font-size="6.75" text-anchor="middle" fill="#262626" textLength="36.77" lengthAdjust="spacingAndGlyphs">On treatment</text>
<circle cx="388.80" cy="413.40" r="2.75" fill="#b1af28"/>
<text x="393.50" y="415.60" font-size="6.75" text-anchor="start" fill="#262626" textLength="8.96" lengthAdjust="spacingAndGlyphs">UC</text>
<circle cx="388.80" cy="420.30" r="2.75" fill="#e63535"/>
<text x="393.50" y="422.50" font-size="6.75" text-anchor="start" fill="#262626" textLength="16.54" lengthAdjust="spacingAndGlyphs">SCLC</text>
<circle cx="388.80" cy="427.20" r="2.75" fill="#28ac45"/>
<text x="393.50" y="429.40" font-size="6.75" text-anchor="start" fill="#262626" textLength="21.02" lengthAdjust="spacingAndGlyphs">NSCLC</text>
<line x1="416.60" y1="433.75" x2="486.00" y2="428.50"/>
<line x1="416.60" y1="461.80" x2="486.00" y2="493.60"/>
<line x1="416.60" y1="466.50" x2="486.00" y2="507.30"/>
<line x1="416.60" y1="479.80" x2="486.00" y2="499.90"/>
<line x1="416.60" y1="481.00" x2="486.00" y2="504.50"/>
<line x1="416.60" y1="485.70" x2="486.00" y2="474.70"/>
<line x1="416.60" y1="507.00" x2="486.00" y2="499.90"/>
<line x1="416.60" y1="509.80" x2="486.00" y2="507.50"/>
<circle cx="416.60" cy="445.50" r="2.75" fill="#e63535"/>
<circle cx="416.60" cy="465.00" r="2.75" fill="#e63535"/>
<circle cx="416.60" cy="467.50" r="2.75" fill="#e63535"/>
<circle cx="416.60" cy="474.50" r="2.75" fill="#e63535"/>
<circle cx="416.60" cy="476.25" r="2.75" fill="#e63535"/>
<circle cx="416.60" cy="485.75" r="2.75" fill="#e63535"/>
<circle cx="416.60" cy="498.00" r="2.75" fill="#e63535"/>
<circle cx="416.60" cy="507.00" r="2.75" fill="#e63535"/>
<circle cx="416.60" cy="480.50" r="2.75" fill="#28ac45"/>
<circle cx="416.60" cy="433.75" r="2.75" fill="#b1af28"/>
<circle cx="416.60" cy="461.75" r="2.75" fill="#b1af28"/>
<circle cx="416.60" cy="509.50" r="2.75" fill="#b1af28"/>
<circle cx="486.00" cy="474.50" r="2.75" fill="#e63535"/>
<circle cx="486.00" cy="502.50" r="2.75" fill="#e63535"/>
<circle cx="486.00" cy="509.25" r="2.75" fill="#e63535"/>
<circle cx="486.00" cy="499.50" r="2.75" fill="#28ac45"/>
<circle cx="486.00" cy="428.75" r="2.75" fill="#b1af28"/>
<circle cx="486.00" cy="493.75" r="2.75" fill="#b1af28"/>
<circle cx="486.00" cy="507.50" r="2.75" fill="#b1af28"/>
<text x="102.50" y="537.80" font-size="7.35" text-anchor="middle" font-weight="bold" fill="#1a1a1a">Parsaclisib + Pembrolizumab (Stroma)</text>
<text transform="translate(8.30,593.55) rotate(-90)" font-size="6.4" text-anchor="middle" font-weight="bold" fill="#222" style="stroke-width:0">CD3<tspan dy="-2" font-size="4">+</tspan><tspan dy="2"> cells/mm</tspan><tspan dy="-2" font-size="4">2</tspan></text>
<path d="M33.80 546.30V640.80H170.80" fill="none" stroke="#6e6e6e" stroke-width="1"/>
<path d="M31.10 640.80H33.80" stroke="#4a4a4a" stroke-width="1.05"/>
<text x="28.70" y="642.75" font-size="6.75" text-anchor="end" fill="#262626" textLength="3.45" lengthAdjust="spacingAndGlyphs">0</text>
<path d="M31.10 617.17H33.80" stroke="#4a4a4a" stroke-width="1.05"/>
<text x="28.70" y="619.12" font-size="6.75" text-anchor="end" fill="#262626" textLength="15.52" lengthAdjust="spacingAndGlyphs">1,000</text>
<path d="M31.10 593.55H33.80" stroke="#4a4a4a" stroke-width="1.05"/>
<text x="28.70" y="595.50" font-size="6.75" text-anchor="end" fill="#262626" textLength="15.52" lengthAdjust="spacingAndGlyphs">2,000</text>
<path d="M31.10 569.92H33.80" stroke="#4a4a4a" stroke-width="1.05"/>
<text x="28.70" y="571.88" font-size="6.75" text-anchor="end" fill="#262626" textLength="15.52" lengthAdjust="spacingAndGlyphs">3,000</text>
<path d="M31.10 546.30H33.80" stroke="#4a4a4a" stroke-width="1.05"/>
<text x="28.70" y="548.25" font-size="6.75" text-anchor="end" fill="#262626" textLength="15.52" lengthAdjust="spacingAndGlyphs">4,000</text>
<path d="M67.20 640.80V642.80" stroke="#6e6e6e" stroke-width="0.8"/>
<path d="M136.60 640.80V642.80" stroke="#6e6e6e" stroke-width="0.8"/>
<text x="67.20" y="650.70" font-size="6.75" text-anchor="middle" fill="#262626" textLength="28.37" lengthAdjust="spacingAndGlyphs">Screening</text>
<text x="136.60" y="650.70" font-size="6.75" text-anchor="middle" fill="#262626" textLength="36.77" lengthAdjust="spacingAndGlyphs">On treatment</text>
<circle cx="40.40" cy="548.50" r="2.75" fill="#b1af28"/>
<text x="45.10" y="550.70" font-size="6.75" text-anchor="start" fill="#262626" textLength="8.96" lengthAdjust="spacingAndGlyphs">UC</text>
<circle cx="40.40" cy="555.20" r="2.75" fill="#e63535"/>
<text x="45.10" y="557.40" font-size="6.75" text-anchor="start" fill="#262626" textLength="16.54" lengthAdjust="spacingAndGlyphs">SCLC</text>
<circle cx="40.40" cy="561.90" r="2.75" fill="#28ac45"/>
<text x="45.10" y="564.10" font-size="6.75" text-anchor="start" fill="#262626" textLength="21.02" lengthAdjust="spacingAndGlyphs">NSCLC</text>
<line x1="67.20" y1="611.25" x2="136.60" y2="557.00"/>
<line x1="67.20" y1="601.25" x2="136.60" y2="623.75"/>
<line x1="67.20" y1="628.75" x2="136.60" y2="604.50"/>
<line x1="67.20" y1="634.50" x2="136.60" y2="631.75"/>
<line x1="67.20" y1="636.25" x2="136.60" y2="633.00"/>
<line x1="67.20" y1="637.00" x2="136.60" y2="634.00"/>
<line x1="67.20" y1="639.25" x2="136.60" y2="636.00"/>
<circle cx="67.20" cy="639.25" r="2.75" fill="#e63535"/>
<circle cx="67.20" cy="634.50" r="2.75" fill="#e63535"/>
<circle cx="67.20" cy="628.75" r="2.75" fill="#e63535"/>
<circle cx="67.20" cy="606.25" r="2.75" fill="#e63535"/>
<circle cx="67.20" cy="567.50" r="2.75" fill="#e63535"/>
<circle cx="67.20" cy="601.25" r="2.75" fill="#28ac45"/>
<circle cx="67.20" cy="636.25" r="2.75" fill="#b1af28"/>
<circle cx="67.20" cy="611.25" r="2.75" fill="#b1af28"/>
<circle cx="136.60" cy="640.75" r="2.75" fill="#e63535"/>
<circle cx="136.60" cy="635.50" r="2.75" fill="#e63535"/>
<circle cx="136.60" cy="623.75" r="2.75" fill="#28ac45"/>
<circle cx="136.60" cy="631.75" r="2.75" fill="#b1af28"/>
<circle cx="136.60" cy="604.50" r="2.75" fill="#b1af28"/>
<circle cx="136.60" cy="557.00" r="2.75" fill="#b1af28"/>
<text x="277.50" y="537.80" font-size="7.35" text-anchor="middle" font-weight="bold" fill="#1a1a1a">Parsaclisib + Pembrolizumab (Stroma)</text>
<text transform="translate(184.80,593.55) rotate(-90)" font-size="6.4" text-anchor="middle" font-weight="bold" fill="#222" style="stroke-width:0">CD8<tspan dy="-2" font-size="4">+</tspan><tspan dy="2"> cells/mm</tspan><tspan dy="-2" font-size="4">2</tspan></text>
<path d="M209.60 546.30V640.80H346.50" fill="none" stroke="#6e6e6e" stroke-width="1"/>
<path d="M206.90 640.80H209.60" stroke="#4a4a4a" stroke-width="1.05"/>
<text x="204.50" y="642.75" font-size="6.75" text-anchor="end" fill="#262626" textLength="3.45" lengthAdjust="spacingAndGlyphs">0</text>
<path d="M206.90 621.90H209.60" stroke="#4a4a4a" stroke-width="1.05"/>
<text x="204.50" y="623.85" font-size="6.75" text-anchor="end" fill="#262626" textLength="10.34" lengthAdjust="spacingAndGlyphs">200</text>
<path d="M206.90 603.00H209.60" stroke="#4a4a4a" stroke-width="1.05"/>
<text x="204.50" y="604.95" font-size="6.75" text-anchor="end" fill="#262626" textLength="10.34" lengthAdjust="spacingAndGlyphs">400</text>
<path d="M206.90 584.10H209.60" stroke="#4a4a4a" stroke-width="1.05"/>
<text x="204.50" y="586.05" font-size="6.75" text-anchor="end" fill="#262626" textLength="10.34" lengthAdjust="spacingAndGlyphs">600</text>
<path d="M206.90 565.20H209.60" stroke="#4a4a4a" stroke-width="1.05"/>
<text x="204.50" y="567.15" font-size="6.75" text-anchor="end" fill="#262626" textLength="10.34" lengthAdjust="spacingAndGlyphs">800</text>
<path d="M206.90 546.30H209.60" stroke="#4a4a4a" stroke-width="1.05"/>
<text x="204.50" y="548.25" font-size="6.75" text-anchor="end" fill="#262626" textLength="15.52" lengthAdjust="spacingAndGlyphs">1,000</text>
<path d="M243.20 640.80V642.80" stroke="#6e6e6e" stroke-width="0.8"/>
<path d="M312.60 640.80V642.80" stroke="#6e6e6e" stroke-width="0.8"/>
<text x="243.20" y="650.70" font-size="6.75" text-anchor="middle" fill="#262626" textLength="28.37" lengthAdjust="spacingAndGlyphs">Screening</text>
<text x="312.60" y="650.70" font-size="6.75" text-anchor="middle" fill="#262626" textLength="36.77" lengthAdjust="spacingAndGlyphs">On treatment</text>
<circle cx="216.20" cy="548.30" r="2.75" fill="#b1af28"/>
<text x="220.90" y="550.50" font-size="6.75" text-anchor="start" fill="#262626" textLength="8.96" lengthAdjust="spacingAndGlyphs">UC</text>
<circle cx="216.20" cy="555.20" r="2.75" fill="#e63535"/>
<text x="220.90" y="557.40" font-size="6.75" text-anchor="start" fill="#262626" textLength="16.54" lengthAdjust="spacingAndGlyphs">SCLC</text>
<circle cx="216.20" cy="562.10" r="2.75" fill="#28ac45"/>
<text x="220.90" y="564.30" font-size="6.75" text-anchor="start" fill="#262626" textLength="21.02" lengthAdjust="spacingAndGlyphs">NSCLC</text>
<line x1="243.20" y1="589.00" x2="312.60" y2="552.00"/>
<line x1="243.20" y1="589.00" x2="312.60" y2="618.75"/>
<line x1="243.20" y1="618.75" x2="312.60" y2="571.50"/>
<line x1="243.20" y1="631.25" x2="312.60" y2="633.25"/>
<line x1="243.20" y1="632.00" x2="312.60" y2="632.50"/>
<line x1="243.20" y1="635.50" x2="312.60" y2="635.75"/>
<line x1="243.20" y1="638.00" x2="312.60" y2="638.50"/>
<circle cx="243.20" cy="640.75" r="2.75" fill="#e63535"/>
<circle cx="243.20" cy="638.00" r="2.75" fill="#e63535"/>
<circle cx="243.20" cy="635.50" r="2.75" fill="#e63535"/>
<circle cx="243.20" cy="625.50" r="2.75" fill="#e63535"/>
<circle cx="243.20" cy="618.75" r="2.75" fill="#e63535"/>
<circle cx="243.20" cy="600.50" r="2.75" fill="#e63535"/>
<circle cx="243.20" cy="620.50" r="2.75" fill="#b1af28"/>
<circle cx="243.20" cy="631.25" r="2.75" fill="#b1af28"/>
<circle cx="243.20" cy="591.25" r="2.75" fill="#b1af28"/>
<circle cx="243.20" cy="587.50" r="2.75" fill="#28ac45"/>
<circle cx="312.60" cy="641.25" r="2.75" fill="#e63535"/>
<circle cx="312.60" cy="635.75" r="2.75" fill="#e63535"/>
<circle cx="312.60" cy="632.00" r="2.75" fill="#e63535"/>
<circle cx="312.60" cy="618.75" r="2.75" fill="#28ac45"/>
<circle cx="312.60" cy="633.25" r="2.75" fill="#b1af28"/>
<circle cx="312.60" cy="571.50" r="2.75" fill="#b1af28"/>
<circle cx="312.60" cy="552.00" r="2.75" fill="#b1af28"/>
<text x="450.50" y="537.80" font-size="7.35" text-anchor="middle" font-weight="bold" fill="#1a1a1a">Parsaclisib + Pembrolizumab (Stroma)</text>
<text transform="translate(357.60,593.55) rotate(-90)" font-size="6.4" text-anchor="middle" font-weight="bold" fill="#222" style="stroke-width:0">FoxP3<tspan dy="-2" font-size="4">+</tspan><tspan dy="2"> cells/mm</tspan><tspan dy="-2" font-size="4">2</tspan></text>
<path d="M383.60 546.30V640.80H520.50" fill="none" stroke="#6e6e6e" stroke-width="1"/>
<path d="M380.90 640.80H383.60" stroke="#4a4a4a" stroke-width="1.05"/>
<text x="378.50" y="642.75" font-size="6.75" text-anchor="end" fill="#262626" textLength="3.45" lengthAdjust="spacingAndGlyphs">0</text>
<path d="M380.90 609.30H383.60" stroke="#4a4a4a" stroke-width="1.05"/>
<text x="378.50" y="611.25" font-size="6.75" text-anchor="end" fill="#262626" textLength="6.90" lengthAdjust="spacingAndGlyphs">50</text>
<path d="M380.90 577.80H383.60" stroke="#4a4a4a" stroke-width="1.05"/>
<text x="378.50" y="579.75" font-size="6.75" text-anchor="end" fill="#262626" textLength="10.34" lengthAdjust="spacingAndGlyphs">100</text>
<path d="M380.90 546.30H383.60" stroke="#4a4a4a" stroke-width="1.05"/>
<text x="378.50" y="548.25" font-size="6.75" text-anchor="end" fill="#262626" textLength="10.34" lengthAdjust="spacingAndGlyphs">150</text>
<path d="M417.20 640.80V642.80" stroke="#6e6e6e" stroke-width="0.8"/>
<path d="M486.00 640.80V642.80" stroke="#6e6e6e" stroke-width="0.8"/>
<text x="417.20" y="650.70" font-size="6.75" text-anchor="middle" fill="#262626" textLength="28.37" lengthAdjust="spacingAndGlyphs">Screening</text>
<text x="486.00" y="650.70" font-size="6.75" text-anchor="middle" fill="#262626" textLength="36.77" lengthAdjust="spacingAndGlyphs">On treatment</text>
<circle cx="388.80" cy="548.30" r="2.75" fill="#b1af28"/>
<text x="393.50" y="550.50" font-size="6.75" text-anchor="start" fill="#262626" textLength="8.96" lengthAdjust="spacingAndGlyphs">UC</text>
<circle cx="388.80" cy="555.20" r="2.75" fill="#e63535"/>
<text x="393.50" y="557.40" font-size="6.75" text-anchor="start" fill="#262626" textLength="16.54" lengthAdjust="spacingAndGlyphs">SCLC</text>
<circle cx="388.80" cy="562.10" r="2.75" fill="#28ac45"/>
<text x="393.50" y="564.30" font-size="6.75" text-anchor="start" fill="#262626" textLength="21.02" lengthAdjust="spacingAndGlyphs">NSCLC</text>
<line x1="417.20" y1="555.00" x2="486.00" y2="614.00"/>
<line x1="417.20" y1="598.75" x2="486.00" y2="631.25"/>
<line x1="417.20" y1="638.00" x2="486.00" y2="622.50"/>
<line x1="417.20" y1="638.50" x2="486.00" y2="631.25"/>
<line x1="417.20" y1="639.00" x2="486.00" y2="634.50"/>
<line x1="417.20" y1="640.00" x2="486.00" y2="640.50"/>
<line x1="417.20" y1="637.00" x2="486.00" y2="634.00"/>
<circle cx="417.20" cy="640.75" r="2.75" fill="#e63535"/>
<circle cx="417.20" cy="638.75" r="2.75" fill="#e63535"/>
<circle cx="417.20" cy="637.00" r="2.75" fill="#e63535"/>
<circle cx="417.20" cy="629.25" r="2.75" fill="#e63535"/>
<circle cx="417.20" cy="627.50" r="2.75" fill="#e63535"/>
<circle cx="417.20" cy="605.75" r="2.75" fill="#e63535"/>
<circle cx="417.20" cy="598.75" r="2.75" fill="#b1af28"/>
<circle cx="417.20" cy="555.00" r="2.75" fill="#28ac45"/>
<circle cx="486.00" cy="640.50" r="2.75" fill="#e63535"/>
<circle cx="486.00" cy="634.50" r="2.75" fill="#e63535"/>
<circle cx="486.00" cy="622.50" r="2.75" fill="#e63535"/>
<circle cx="486.00" cy="631.25" r="2.75" fill="#b1af28"/>
<circle cx="486.00" cy="616.25" r="2.75" fill="#b1af28"/>
<circle cx="486.00" cy="613.75" r="2.75" fill="#28ac45"/>
<text x="102.50" y="670.10" font-size="7.35" text-anchor="middle" font-weight="bold" fill="#1a1a1a">Parsaclisib + Pembrolizumab (Tumor)</text>
<text transform="translate(8.30,725.85) rotate(-90)" font-size="6.4" text-anchor="middle" font-weight="bold" fill="#222" style="stroke-width:0">CD8:FoxP3 ratio</text>
<path d="M33.80 678.50V773.20H170.80" fill="none" stroke="#6e6e6e" stroke-width="1"/>
<path d="M31.10 773.20H33.80" stroke="#4a4a4a" stroke-width="1.05"/>
<text x="28.70" y="775.15" font-size="6.75" text-anchor="end" fill="#262626" textLength="3.45" lengthAdjust="spacingAndGlyphs">0</text>
<path d="M31.10 754.26H33.80" stroke="#4a4a4a" stroke-width="1.05"/>
<text x="28.70" y="756.21" font-size="6.75" text-anchor="end" fill="#262626" textLength="6.90" lengthAdjust="spacingAndGlyphs">20</text>
<path d="M31.10 735.32H33.80" stroke="#4a4a4a" stroke-width="1.05"/>
<text x="28.70" y="737.27" font-size="6.75" text-anchor="end" fill="#262626" textLength="6.90" lengthAdjust="spacingAndGlyphs">40</text>
<path d="M31.10 716.38H33.80" stroke="#4a4a4a" stroke-width="1.05"/>
<text x="28.70" y="718.33" font-size="6.75" text-anchor="end" fill="#262626" textLength="6.90" lengthAdjust="spacingAndGlyphs">60</text>
<path d="M31.10 697.44H33.80" stroke="#4a4a4a" stroke-width="1.05"/>
<text x="28.70" y="699.39" font-size="6.75" text-anchor="end" fill="#262626" textLength="6.90" lengthAdjust="spacingAndGlyphs">80</text>
<path d="M31.10 678.50H33.80" stroke="#4a4a4a" stroke-width="1.05"/>
<text x="28.70" y="680.45" font-size="6.75" text-anchor="end" fill="#262626" textLength="10.34" lengthAdjust="spacingAndGlyphs">100</text>
<path d="M67.20 773.20V775.20" stroke="#6e6e6e" stroke-width="0.8"/>
<path d="M136.60 773.20V775.20" stroke="#6e6e6e" stroke-width="0.8"/>
<text x="67.20" y="783.10" font-size="6.75" text-anchor="middle" fill="#262626" textLength="28.37" lengthAdjust="spacingAndGlyphs">Screening</text>
<text x="136.60" y="783.10" font-size="6.75" text-anchor="middle" fill="#262626" textLength="36.77" lengthAdjust="spacingAndGlyphs">On treatment</text>
<circle cx="40.40" cy="682.00" r="2.75" fill="#b1af28"/>
<text x="45.10" y="684.20" font-size="6.75" text-anchor="start" fill="#262626" textLength="8.96" lengthAdjust="spacingAndGlyphs">UC</text>
<circle cx="40.40" cy="688.80" r="2.75" fill="#e63535"/>
<text x="45.10" y="691.00" font-size="6.75" text-anchor="start" fill="#262626" textLength="16.54" lengthAdjust="spacingAndGlyphs">SCLC</text>
<circle cx="40.40" cy="695.60" r="2.75" fill="#28ac45"/>
<text x="45.10" y="697.80" font-size="6.75" text-anchor="start" fill="#262626" textLength="21.02" lengthAdjust="spacingAndGlyphs">NSCLC</text>
<line x1="67.20" y1="765.00" x2="136.60" y2="687.00"/>
<line x1="67.20" y1="769.00" x2="136.60" y2="718.00"/>
<line x1="67.20" y1="751.60" x2="136.60" y2="731.00"/>
<line x1="67.20" y1="758.10" x2="136.60" y2="731.00"/>
<line x1="67.20" y1="762.00" x2="136.60" y2="735.00"/>
<line x1="67.20" y1="748.30" x2="136.60" y2="754.30"/>
<line x1="67.20" y1="772.80" x2="136.60" y2="766.60"/>
<line x1="67.20" y1="772.80" x2="136.60" y2="772.80"/>
<circle cx="67.20" cy="764.20" r="2.75" fill="#b1af28"/>
<circle cx="67.20" cy="769.40" r="2.75" fill="#b1af28"/>
<circle cx="67.20" cy="760.30" r="2.75" fill="#e63535"/>
<circle cx="67.20" cy="766.20" r="2.75" fill="#e63535"/>
<circle cx="67.20" cy="772.60" r="2.75" fill="#e63535"/>
<circle cx="67.20" cy="751.70" r="2.75" fill="#e63535"/>
<circle cx="67.20" cy="733.90" r="2.75" fill="#e63535"/>
<circle cx="67.20" cy="757.90" r="2.75" fill="#b1af28"/>
<circle cx="67.20" cy="748.30" r="2.75" fill="#28ac45"/>
<circle cx="136.60" cy="772.80" r="2.75" fill="#e63535"/>
<circle cx="136.60" cy="766.60" r="2.75" fill="#e63535"/>
<circle cx="136.60" cy="754.30" r="2.75" fill="#28ac45"/>
<circle cx="136.60" cy="735.10" r="2.75" fill="#e63535"/>
<circle cx="136.60" cy="731.10" r="2.75" fill="#b1af28"/>
<circle cx="136.60" cy="718.10" r="2.75" fill="#e63535"/>
<circle cx="136.60" cy="687.00" r="2.75" fill="#b1af28"/>
<text x="141.00" y="689.20" font-size="6.75" text-anchor="start" fill="#262626" textLength="30.10" lengthAdjust="spacingAndGlyphs">UC SD/PD</text>
<text x="141.00" y="720.30" font-size="6.75" text-anchor="start" fill="#262626" textLength="27.31" lengthAdjust="spacingAndGlyphs">SCLC NE</text>
<text x="141.00" y="733.10" font-size="6.75" text-anchor="start" fill="#262626" textLength="19.60" lengthAdjust="spacingAndGlyphs">UC PD</text>
<text x="141.00" y="739.20" font-size="6.75" text-anchor="start" fill="#262626" textLength="27.31" lengthAdjust="spacingAndGlyphs">SCLC PR</text>
<text x="141.00" y="756.50" font-size="6.75" text-anchor="start" fill="#262626" textLength="42.36" lengthAdjust="spacingAndGlyphs">NSCLC SD/PD</text>
<text x="141.00" y="767.70" font-size="6.75" text-anchor="start" fill="#262626" textLength="27.31" lengthAdjust="spacingAndGlyphs">SCLC PD</text>
<text x="141.00" y="773.00" font-size="6.75" text-anchor="start" fill="#262626" textLength="27.31" lengthAdjust="spacingAndGlyphs">SCLC PD</text>
<text x="277.50" y="670.10" font-size="7.35" text-anchor="middle" font-weight="bold" fill="#1a1a1a">Parsaclisib + Pembrolizumab (Stroma)</text>
<text transform="translate(189.70,725.85) rotate(-90)" font-size="6.4" text-anchor="middle" font-weight="bold" fill="#222" style="stroke-width:0">CD8:FoxP3 ratio</text>
<path d="M209.60 678.50V773.20H346.50" fill="none" stroke="#6e6e6e" stroke-width="1"/>
<path d="M206.90 773.20H209.60" stroke="#4a4a4a" stroke-width="1.05"/>
<text x="204.50" y="775.15" font-size="6.75" text-anchor="end" fill="#262626" textLength="3.45" lengthAdjust="spacingAndGlyphs">0</text>
<path d="M206.90 754.26H209.60" stroke="#4a4a4a" stroke-width="1.05"/>
<text x="204.50" y="756.21" font-size="6.75" text-anchor="end" fill="#262626" textLength="6.90" lengthAdjust="spacingAndGlyphs">20</text>
<path d="M206.90 735.32H209.60" stroke="#4a4a4a" stroke-width="1.05"/>
<text x="204.50" y="737.27" font-size="6.75" text-anchor="end" fill="#262626" textLength="6.90" lengthAdjust="spacingAndGlyphs">40</text>
<path d="M206.90 716.38H209.60" stroke="#4a4a4a" stroke-width="1.05"/>
<text x="204.50" y="718.33" font-size="6.75" text-anchor="end" fill="#262626" textLength="6.90" lengthAdjust="spacingAndGlyphs">60</text>
<path d="M206.90 697.44H209.60" stroke="#4a4a4a" stroke-width="1.05"/>
<text x="204.50" y="699.39" font-size="6.75" text-anchor="end" fill="#262626" textLength="6.90" lengthAdjust="spacingAndGlyphs">80</text>
<path d="M206.90 678.50H209.60" stroke="#4a4a4a" stroke-width="1.05"/>
<text x="204.50" y="680.45" font-size="6.75" text-anchor="end" fill="#262626" textLength="10.34" lengthAdjust="spacingAndGlyphs">100</text>
<path d="M243.20 773.20V775.20" stroke="#6e6e6e" stroke-width="0.8"/>
<path d="M312.60 773.20V775.20" stroke="#6e6e6e" stroke-width="0.8"/>
<text x="243.20" y="783.10" font-size="6.75" text-anchor="middle" fill="#262626" textLength="28.37" lengthAdjust="spacingAndGlyphs">Screening</text>
<text x="312.60" y="783.10" font-size="6.75" text-anchor="middle" fill="#262626" textLength="36.77" lengthAdjust="spacingAndGlyphs">On treatment</text>
<circle cx="215.80" cy="682.50" r="2.75" fill="#b1af28"/>
<text x="220.50" y="684.70" font-size="6.75" text-anchor="start" fill="#262626" textLength="8.96" lengthAdjust="spacingAndGlyphs">UC</text>
<circle cx="215.80" cy="689.40" r="2.75" fill="#e63535"/>
<text x="220.50" y="691.60" font-size="6.75" text-anchor="start" fill="#262626" textLength="16.54" lengthAdjust="spacingAndGlyphs">SCLC</text>
<circle cx="215.80" cy="696.30" r="2.75" fill="#28ac45"/>
<text x="220.50" y="698.50" font-size="6.75" text-anchor="start" fill="#262626" textLength="21.02" lengthAdjust="spacingAndGlyphs">NSCLC</text>
<line x1="243.20" y1="717.90" x2="312.60" y2="768.50"/>
<line x1="243.20" y1="746.20" x2="312.60" y2="735.50"/>
<line x1="243.20" y1="754.00" x2="312.60" y2="684.80"/>
<line x1="243.20" y1="761.50" x2="312.60" y2="701.60"/>
<line x1="243.20" y1="761.80" x2="312.60" y2="768.50"/>
<line x1="243.20" y1="769.90" x2="312.60" y2="768.80"/>
<line x1="243.20" y1="771.50" x2="312.60" y2="771.00"/>
<circle cx="243.20" cy="766.60" r="2.75" fill="#b1af28"/>
<circle cx="243.20" cy="772.90" r="2.75" fill="#e63535"/>
<circle cx="243.20" cy="764.60" r="2.75" fill="#e63535"/>
<circle cx="243.20" cy="762.60" r="2.75" fill="#e63535"/>
<circle cx="243.20" cy="760.60" r="2.75" fill="#e63535"/>
<circle cx="243.20" cy="758.60" r="2.75" fill="#e63535"/>
<circle cx="243.20" cy="756.60" r="2.75" fill="#e63535"/>
<circle cx="243.20" cy="755.20" r="2.75" fill="#e63535"/>
<circle cx="243.20" cy="749.60" r="2.75" fill="#e63535"/>
<circle cx="243.20" cy="746.20" r="2.75" fill="#e63535"/>
<circle cx="243.20" cy="717.90" r="2.75" fill="#b1af28"/>
<circle cx="243.20" cy="769.90" r="2.75" fill="#28ac45"/>
<circle cx="312.60" cy="773.00" r="2.75" fill="#e63535"/>
<circle cx="312.60" cy="755.40" r="2.75" fill="#b1af28"/>
<circle cx="312.60" cy="735.50" r="2.75" fill="#e63535"/>
<circle cx="312.60" cy="701.60" r="2.75" fill="#b1af28"/>
<circle cx="312.60" cy="684.80" r="2.75" fill="#e63535"/>
<circle cx="312.60" cy="768.50" r="2.75" fill="#28ac45"/>
<text x="317.00" y="687.00" font-size="6.75" text-anchor="start" fill="#262626" textLength="27.31" lengthAdjust="spacingAndGlyphs">SCLC NE</text>
<text x="317.00" y="703.80" font-size="6.75" text-anchor="start" fill="#262626" textLength="30.10" lengthAdjust="spacingAndGlyphs">UC SD/PD</text>
<text x="317.00" y="737.70" font-size="6.75" text-anchor="start" fill="#262626" textLength="27.31" lengthAdjust="spacingAndGlyphs">SCLC PR</text>
<text x="317.00" y="756.80" font-size="6.75" text-anchor="start" fill="#262626" textLength="19.60" lengthAdjust="spacingAndGlyphs">UC PD</text>
<text x="317.00" y="762.10" font-size="6.75" text-anchor="start" fill="#262626" textLength="19.60" lengthAdjust="spacingAndGlyphs">UC PD</text>
<text x="317.00" y="767.40" font-size="6.75" text-anchor="start" fill="#262626" textLength="27.31" lengthAdjust="spacingAndGlyphs">SCLC PD</text>
<text x="317.00" y="772.70" font-size="6.75" text-anchor="start" fill="#262626" textLength="42.36" lengthAdjust="spacingAndGlyphs">NSCLC SD/PD</text>
<text x="317.00" y="778.40" font-size="6.75" text-anchor="start" fill="#262626" textLength="27.31" lengthAdjust="spacingAndGlyphs">SCLC PD</text>
<text x="1.10" y="11.20" font-size="13.5" text-anchor="start" font-weight="bold" fill="#111">A</text>
<text x="1.10" y="275.00" font-size="13.5" text-anchor="start" font-weight="bold" fill="#111">B</text>
<text x="1.10" y="406.50" font-size="13.5" text-anchor="start" font-weight="bold" fill="#111">C</text>
<text x="1.10" y="671.50" font-size="13.5" text-anchor="start" font-weight="bold" fill="#111">D</text>
</svg>
</body></html>
